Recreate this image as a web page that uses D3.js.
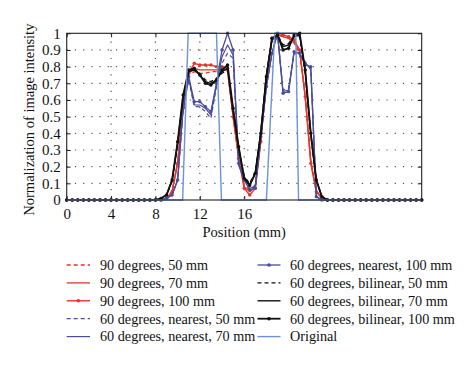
<!DOCTYPE html>
<html><head><meta charset="utf-8">
<script src="https://cdn.jsdelivr.net/npm/d3@7"></script>
<style>body{margin:0;background:#fff}svg{display:block}text{font-family:"Liberation Serif","DejaVu Serif",serif;fill:#111}</style>
</head><body><svg id="c" width="474" height="367"></svg>
<script>
// Position (mm) sample points
const positions = [0,0.5,1,1.5,2,2.5,3,3.5,4,4.5,5,5.5,6,6.5,7,7.5,8,8.5,9,9.5,10,10.5,11,11.5,12,12.5,13,13.5,14,14.5,15,15.5,16,16.5,17,17.5,18,18.5,19,19.5,20,20.5,21,21.5,22,22.5,23,23.5,24,24.5,25,25.5,26,26.5,27,27.5,28,28.5,29,29.5,30,30.5,31,31.5,32];
const xTicks = [0,4,8,12,16];
const yTicks = [0,0.1,0.2,0.3,0.4,0.5,0.6,0.7,0.8,0.9,1];

const deg90_50  = [0,0,0,0,0,0,0,0,0,0,0,0,0,0,0,0,0, 0.00,0.01,0.05,0.23,0.56,0.75,0.77,0.76,0.76,0.77,0.77,0.77,0.77,0.50,0.26,0.09,0.06,0.09,0.36,0.72,0.96,0.99,0.98,0.97,0.94,0.88,0.63,0.24,0.06,0.01,0.00, 0,0,0,0,0,0,0,0,0,0,0,0,0,0,0,0,0];
const deg90_70  = [0,0,0,0,0,0,0,0,0,0,0,0,0,0,0,0,0, 0.00,0.01,0.05,0.23,0.56,0.76,0.79,0.78,0.78,0.78,0.78,0.78,0.78,0.50,0.26,0.08,0.05,0.08,0.36,0.72,0.97,0.99,0.98,0.97,0.95,0.89,0.62,0.23,0.05,0.01,0.00, 0,0,0,0,0,0,0,0,0,0,0,0,0,0,0,0,0];
const deg90_100 = [0,0,0,0,0,0,0,0,0,0,0,0,0,0,0,0,0, 0.00,0.01,0.05,0.22,0.55,0.76,0.82,0.81,0.81,0.81,0.80,0.80,0.79,0.50,0.25,0.07,0.03,0.07,0.35,0.72,0.97,0.99,0.99,0.98,0.96,0.90,0.62,0.22,0.05,0.01,0.00, 0,0,0,0,0,0,0,0,0,0,0,0,0,0,0,0,0];
const near_50   = [0,0,0,0,0,0,0,0,0,0,0,0,0,0,0,0,0, 0.00,0.01,0.03,0.12,0.55,0.72,0.56,0.56,0.53,0.49,0.68,0.82,0.88,0.85,0.21,0.13,0.08,0.09,0.38,0.68,0.88,1.00,0.66,0.67,0.88,0.87,0.83,0.78,0.02,0.00,0.00, 0,0,0,0,0,0,0,0,0,0,0,0,0,0,0,0,0];
const near_70   = [0,0,0,0,0,0,0,0,0,0,0,0,0,0,0,0,0, 0.00,0.01,0.03,0.12,0.55,0.73,0.57,0.57,0.55,0.51,0.69,0.86,0.93,0.87,0.21,0.12,0.07,0.08,0.38,0.68,0.88,1.00,0.65,0.66,0.89,0.88,0.82,0.79,0.02,0.00,0.00, 0,0,0,0,0,0,0,0,0,0,0,0,0,0,0,0,0];
const near_100  = [0,0,0,0,0,0,0,0,0,0,0,0,0,0,0,0,0, 0.00,0.01,0.03,0.12,0.56,0.74,0.59,0.59,0.56,0.53,0.70,0.90,1.00,0.90,0.22,0.12,0.06,0.07,0.38,0.68,0.88,1.00,0.64,0.65,0.89,0.88,0.81,0.80,0.02,0.00,0.00, 0,0,0,0,0,0,0,0,0,0,0,0,0,0,0,0,0];
const bil_50    = [0,0,0,0,0,0,0,0,0,0,0,0,0,0,0,0,0, 0.01,0.03,0.11,0.33,0.62,0.77,0.78,0.76,0.72,0.71,0.73,0.76,0.78,0.53,0.31,0.14,0.10,0.17,0.41,0.75,0.96,0.99,0.93,0.94,0.98,0.98,0.76,0.39,0.12,0.02,0.00, 0,0,0,0,0,0,0,0,0,0,0,0,0,0,0,0,0];
const bil_70    = [0,0,0,0,0,0,0,0,0,0,0,0,0,0,0,0,0, 0.01,0.03,0.12,0.34,0.62,0.77,0.78,0.75,0.71,0.70,0.72,0.77,0.79,0.54,0.31,0.13,0.09,0.16,0.41,0.75,0.96,0.99,0.92,0.93,0.98,0.99,0.77,0.40,0.12,0.02,0.00, 0,0,0,0,0,0,0,0,0,0,0,0,0,0,0,0,0];
const bil_100   = [0,0,0,0,0,0,0,0,0,0,0,0,0,0,0,0,0, 0.01,0.03,0.12,0.35,0.63,0.78,0.79,0.75,0.70,0.69,0.72,0.78,0.81,0.55,0.32,0.13,0.09,0.16,0.40,0.74,0.97,0.99,0.90,0.91,0.99,1.00,0.78,0.40,0.12,0.02,0.00, 0,0,0,0,0,0,0,0,0,0,0,0,0,0,0,0,0];
const originalX = [0,10.45,10.95,13.5,13.95,18.0,18.75,20.65,20.9,32];
const originalY = [0,0,1,1,0,0,1,1,0,0];

const seriesNames = ["90 degrees, 50 mm","90 degrees, 70 mm","90 degrees, 100 mm","60 degrees, nearest, 50 mm","60 degrees, nearest, 70 mm","60 degrees, nearest, 100 mm","60 degrees, bilinear, 50 mm","60 degrees, bilinear, 70 mm","60 degrees, bilinear, 100 mm","Original"];

const RED="#e5352b", PUR="#4a4c9c", BLK="#111111", ORI="#6b93d6";
const series = [
 {name:seriesNames[0], y:deg90_50, c:RED, dash:"4,3", w:1.3, m:false},
 {name:seriesNames[1], y:deg90_70, c:RED, dash:null, w:1.3, m:false},
 {name:seriesNames[2], y:deg90_100, c:RED, dash:null, w:1.4, m:true},
 {name:seriesNames[3], y:near_50, c:PUR, dash:"4,3", w:1.2, m:false},
 {name:seriesNames[4], y:near_70, c:PUR, dash:null, w:1.2, m:false},
 {name:seriesNames[5], y:near_100, c:PUR, dash:null, w:1.3, m:true},
 {name:seriesNames[6], y:bil_50, c:BLK, dash:"4,3", w:1.3, m:false},
 {name:seriesNames[7], y:bil_70, c:BLK, dash:null, w:1.4, m:false},
 {name:seriesNames[8], y:bil_100, c:BLK, dash:null, w:1.8, m:true},
];

const svg = d3.select("#c");
const L=66.7, R=421.7, T=33.3, B=200;
const x = d3.scaleLinear().domain([0,32]).range([L,R]);
const y = d3.scaleLinear().domain([0,1]).range([B,T]);

// grid
const g = svg.append("g");
g.selectAll(".hg").data(yTicks.filter(v=>v>0&&v<1)).enter().append("line")
 .attr("x1",L).attr("x2",R).attr("y1",d=>y(d)).attr("y2",d=>y(d))
 .attr("stroke","#555").attr("stroke-width",1.2).attr("stroke-dasharray","1.2,7");
g.selectAll(".vg").data(xTicks.filter(v=>v>0)).enter().append("line")
 .attr("y1",T).attr("y2",B).attr("x1",d=>x(d)).attr("x2",d=>x(d))
 .attr("stroke","#555").attr("stroke-width",1.2).attr("stroke-dasharray","1.2,7");

// axes
const ax = d3.axisBottom(x).tickValues(xTicks).tickSize(-4).tickPadding(8).tickFormat(d3.format("d"));
const axG = svg.append("g").attr("transform",`translate(0,${B})`).call(ax);
const axT = svg.append("g").attr("transform",`translate(0,${T})`).call(d3.axisTop(x).tickValues(xTicks).tickSize(-4).tickFormat(""));
const ay = d3.axisLeft(y).tickValues(yTicks).tickSize(-4).tickPadding(6).tickFormat(d=>d===0?"0":d===1?"1":d3.format(".1f")(d));
const ayG = svg.append("g").attr("transform",`translate(${L},0)`).call(ay);
const ayR = svg.append("g").attr("transform",`translate(${R},0)`).call(d3.axisRight(y).tickValues(yTicks).tickSize(-4).tickFormat(""));
[axG,axT,ayG,ayR].forEach(a=>{a.select(".domain").remove();a.selectAll("line").attr("stroke","#222");});
axG.selectAll("text").attr("font-size",15).style("font-family","Liberation Serif").attr("fill","#111");
ayG.selectAll("text").attr("font-size",15).style("font-family","Liberation Serif").attr("fill","#111");

// lines
const line = d3.line().x((d,i)=>x(positions[i])).y(d=>y(d));
const lg = svg.append("g");
series.forEach(s=>{
  lg.append("path").attr("d",line(s.y)).attr("fill","none").attr("stroke",s.c)
   .attr("stroke-width",s.w).attr("stroke-dasharray",s.dash).attr("stroke-linejoin","round");
  if(s.m){
    lg.selectAll(null).data(s.y).enter().append("circle")
     .attr("cx",(d,i)=>x(positions[i])).attr("cy",d=>y(d)).attr("r",1.7).attr("fill",s.c);
  }
});
// original
const oline = d3.line().x((d,i)=>x(originalX[i])).y(d=>y(d));
lg.append("path").attr("d",oline(originalY)).attr("fill","none").attr("stroke",ORI).attr("stroke-width",1.4);

// frame
svg.append("rect").attr("x",L).attr("y",T).attr("width",R-L).attr("height",B-T)
 .attr("fill","none").attr("stroke","#222").attr("stroke-width",1.1);

// axis labels
svg.append("text").attr("x",(L+R)/2).attr("y",237).attr("text-anchor","middle").attr("font-size",14.5).text("Position (mm)");
svg.append("text").attr("transform",`translate(34,${(T+B)/2+3}) rotate(-90)`).attr("text-anchor","middle").attr("font-size",14.5).text("Normalization of image intensity");

// legend
const all = series.concat([{name:seriesNames[9], c:ORI, dash:null, w:1.4, m:false}]);
const leg = svg.append("g");
all.forEach((s,i)=>{
  const col = i<5?0:1, row = i%5;
  const x0 = col===0?66.7:257.5, x1 = col===0?90:280.5, tx = col===0?100:290;
  const yy = 265 + row*17.9;
  leg.append("line").attr("x1",x0).attr("x2",x1).attr("y1",yy).attr("y2",yy)
    .attr("stroke",s.c).attr("stroke-width",s.w).attr("stroke-dasharray",s.dash);
  if(s.m) leg.append("circle").attr("cx",(x0+x1)/2).attr("cy",yy).attr("r",1.8).attr("fill",s.c);
  leg.append("text").attr("x",tx).attr("y",yy+4.8).attr("font-size",14.2).text(s.name);
});
</script></body></html>
